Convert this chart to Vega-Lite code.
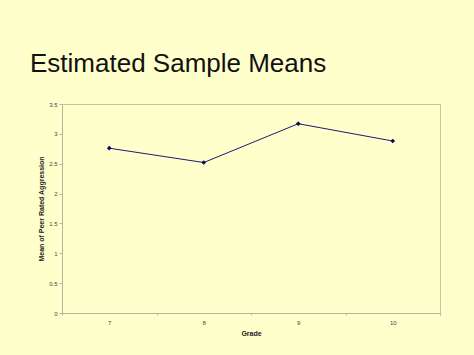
{
  "$schema": "https://vega.github.io/schema/vega-lite/v6.json",
  "width": 378,
  "height": 209,
  "autosize": {"type": "none"},
  "padding": {"left": 62, "top": 104, "right": 34, "bottom": 42},
  "background": "#FFFFCC",
  "title": {
    "text": "Estimated Sample Means",
    "anchor": "start",
    "frame": "group",
    "orient": "top",
    "dx": -32,
    "dy": 29,
    "offset": 32,
    "baseline": "alphabetic",
    "font": "Liberation Sans",
    "fontSize": 26,
    "fontWeight": "normal",
    "color": "#111111"
  },
  "config": {
    "view": {"stroke": "#c8c4a4", "strokeWidth": 1, "fill": "#FFFFCC"},
    "axis": {"grid": false, "domainColor": "#b8b49c", "tickColor": "#b8b49c", "labelFont": "Liberation Sans", "titleFont": "Liberation Sans", "labelColor": "#444444", "titleColor": "#222222"}
  },
  "data": {
    "values": [
      {"grade": "7", "mean": 2.76},
      {"grade": "8", "mean": 2.52},
      {"grade": "9", "mean": 3.17},
      {"grade": "10", "mean": 2.88}
    ]
  },
  "encoding": {
    "x": {
      "field": "grade",
      "type": "ordinal",
      "sort": null,
      "scale": {"type": "band", "paddingInner": 0, "paddingOuter": 0},
      "axis": {"title": "Grade", "labelAngle": 0, "labelFontSize": 6, "labelPadding": 4, "tickBand": "extent", "tickSize": 2, "titleFontSize": 7, "titlePadding": 4, "titleFontWeight": "bold"}
    },
    "y": {
      "field": "mean",
      "type": "quantitative",
      "scale": {"domain": [0, 3.5], "nice": false},
      "axis": {"title": "Mean of Peer Rated Aggression", "values": [0, 0.5, 1, 1.5, 2, 2.5, 3, 3.5], "format": "~g", "labelFontSize": 6, "labelPadding": 2, "tickSize": 3, "titleFontSize": 7, "titlePadding": 4, "titleFontWeight": "bold"}
    }
  },
  "layer": [
    {"mark": {"type": "line", "color": "#1a1a70", "strokeWidth": 1}},
    {"mark": {"type": "point", "shape": "diamond", "filled": true, "color": "#0a0a5a", "size": 22, "opacity": 1}}
  ]
}
